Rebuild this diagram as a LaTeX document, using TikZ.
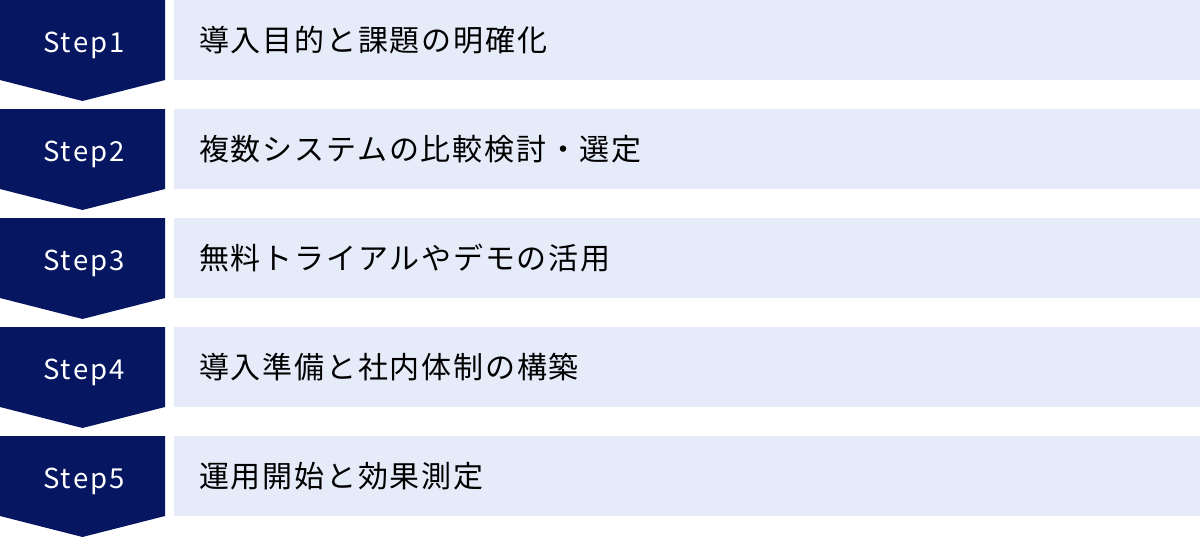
\documentclass[tikz,border=0pt]{standalone}
\usepackage{fontspec}
\newfontfamily\jpfont[LetterSpace=6]{Noto Sans CJK JP}
\newfontfamily\stepfont[LetterSpace=8]{Noto Sans CJK JP}
\definecolor{navy}{RGB}{6,22,96}
\definecolor{lightbg}{RGB}{229,235,249}
\begin{document}
\begin{tikzpicture}[x=1pt,y=-1pt,
  chevron/.style={fill=navy},
  band/.style={fill=lightbg},
  steplabel/.style={anchor=base,text=white,font=\stepfont\fontsize{27.5}{32}\selectfont,inner sep=0pt},
  itemlabel/.style={anchor=base west,text=black,font=\jpfont\fontsize{30}{36}\selectfont,inner sep=0pt}]
\useasboundingbox (0,0) rectangle (1200,538);
\foreach \i/\txt in {1/導入目的と課題の明確化,2/複数システムの比較検討・選定,3/無料トライアルやデモの活用,4/導入準備と社内体制の構築,5/運用開始と効果測定}{
  \pgfmathsetmacro{\yy}{(\i-1)*109}
  \fill[chevron] (0,\yy) -- (165,\yy) -- (165,\yy+80) -- (82.5,\yy+101) -- (0,\yy+80) -- cycle;
  \fill[band] (174,\yy) rectangle (1200,\yy+80);
  \node[steplabel] (s\i) at (84,\yy+52) {Step\i};
  \node[itemlabel] (t\i) at (199,\yy+51) {\txt};
}
\end{tikzpicture}
\end{document}
